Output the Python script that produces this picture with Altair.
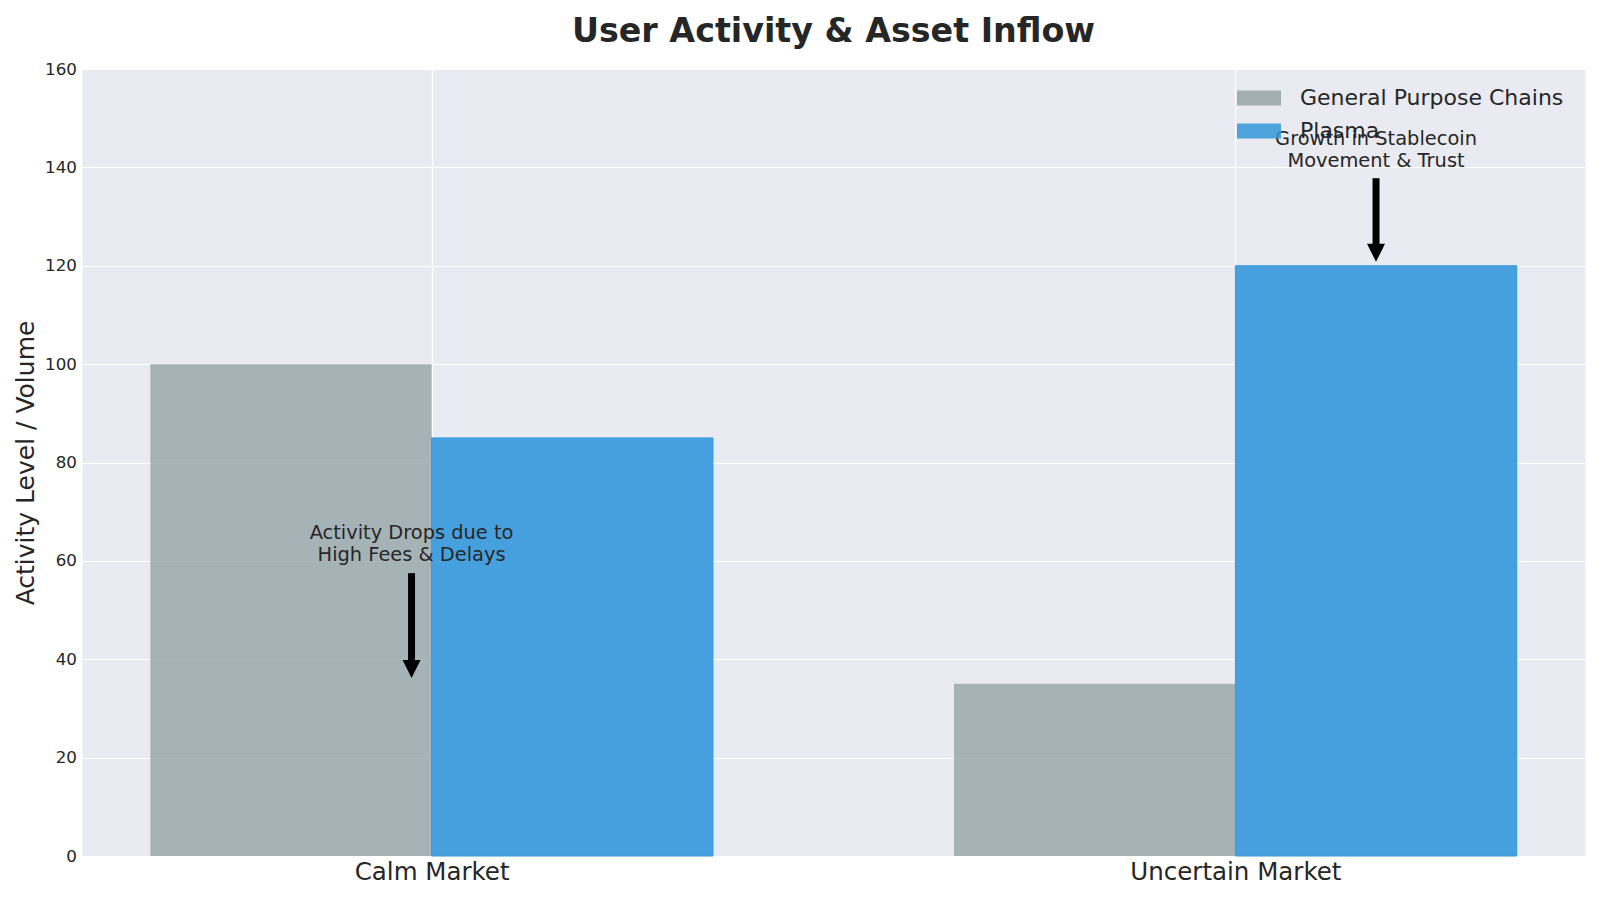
import altair as alt
import pandas as pd

# ---- data ----
categories = ["Calm Market", "Uncertain Market"]
series = ["General Purpose Chains", "Plasma"]
general_values = [100, 35]
plasma_values = [85, 120]

ann_lines = [["Activity Drops due to", "High Fees & Delays"],
             ["Growth in Stablecoin", "Movement & Trust"]]
ann_x = [-0.025, 1.175]
ann_text_y = [60, 140]
arrow_start = [57.5, 137.8]
arrow_shaft_end = [39.6, 124.3]
arrow_tip = [36.2, 120.8]

BAR_W = 0.35
FONT = "DejaVu Sans"
TXT = "#262626"

rows = []
for i, cat in enumerate(categories):
    for k, (s, vals) in enumerate(zip(series, [general_values, plasma_values])):
        rows.append({"idx": i, "k": k, "category": cat, "series": s, "value": vals[i]})
bars_df = pd.DataFrame(rows)

ann_df = pd.DataFrame({
    "txt": ann_lines,
    "ax": ann_x,
    "ty": ann_text_y,
    "y0": arrow_start,
    "y1": arrow_shaft_end,
    "tip": arrow_tip,
})

x_scale = alt.Scale(domain=[-0.435, 1.435], nice=False, zero=False)
y_scale = alt.Scale(domain=[0, 160], nice=False)

label_expr = "[" + ",".join("'" + c + "'" for c in categories) + "][datum.value]"

x_axis = alt.Axis(values=list(range(len(categories))), labelExpr=label_expr, title=None,
                  grid=True, ticks=False, domain=False, labelFontSize=24.5, labelPadding=4,
                  labelFlush=False, labelOverlap=False, labelLimit=500)
y_axis = alt.Axis(values=list(range(0, 161, 20)), title="Activity Level / Volume",
                  grid=True, ticks=False, domain=False, labelFontSize=16.7, labelPadding=5.6,
                  titleFontSize=25, titleFontWeight="normal", titlePadding=6)

bars = alt.Chart(bars_df).transform_calculate(
    x0=f"datum.idx + (datum.k - 1) * {BAR_W}",
    x1=f"datum.idx + datum.k * {BAR_W}",
).mark_bar(strokeWidth=1).encode(
    x=alt.X("x0:Q", scale=x_scale, axis=x_axis),
    x2="x1:Q",
    y=alt.Y("value:Q", scale=y_scale, axis=y_axis),
    y2=alt.datum(0),
    color=alt.Color("series:N", scale=alt.Scale(domain=series, range=["#95a5a6", "#3498db"]),
                    legend=alt.Legend(title=None, orient="none", legendX=1155, legendY=7,
                                      symbolType="M-1,-0.34L1,-0.34L1,0.34L-1,0.34Z",
                                      symbolSize=1936, symbolStrokeWidth=0,
                                      symbolOpacity=0.85,
                                      labelFontSize=22, labelOffset=19, labelLimit=500,
                                      labelColor=TXT, labelFont=FONT, rowPadding=-11,
                                      padding=0)),
    fillOpacity=alt.FillOpacity("series:N", scale=alt.Scale(domain=series, range=[0.8, 0.9]),
                                legend=None),
    stroke=alt.Stroke("series:N", scale=alt.Scale(domain=series,
                                                  range=["rgba(0,0,0,0)", "#3498db"]),
                      legend=None),
)

shafts = alt.Chart(ann_df).mark_rule(strokeWidth=7, color="black").encode(
    x=alt.X("ax:Q", scale=x_scale),
    y=alt.Y("y0:Q", scale=y_scale),
    y2="y1:Q",
)

heads = alt.Chart(ann_df).mark_point(shape="M-1,-2L1,-2L0,0Z", size=324, filled=True,
                                     color="black", opacity=1, strokeWidth=0).encode(
    x=alt.X("ax:Q", scale=x_scale),
    y=alt.Y("tip:Q", scale=y_scale),
)

texts = alt.Chart(ann_df).mark_text(align="center", baseline="alphabetic", dy=-22,
                                    lineHeight=22, fontSize=19.4, font=FONT,
                                    color=TXT).encode(
    x=alt.X("ax:Q", scale=x_scale),
    y=alt.Y("ty:Q", scale=y_scale),
    text="txt",
)

chart = alt.layer(bars, shafts, heads, texts).properties(
    width=1503,
    height=787,
    padding={"left": 74, "top": 61, "right": 7, "bottom": 30},
    autosize=alt.AutoSizeParams(type="none"),
    title=alt.TitleParams("User Activity & Asset Inflow", fontSize=33.3, fontWeight="bold",
                          font=FONT, color=TXT, anchor="middle", frame="group",
                          offset=12),
).configure(
    background="white",
).configure_axis(
    labelFont=FONT, titleFont=FONT, labelColor=TXT, titleColor=TXT,
    gridColor="white", gridWidth=1.2, gridOpacity=1,
).configure_view(
    fill="#EAEAF2", stroke="transparent",
)

chart.save("out.html", embed_options={"renderer": "svg", "actions": False})
